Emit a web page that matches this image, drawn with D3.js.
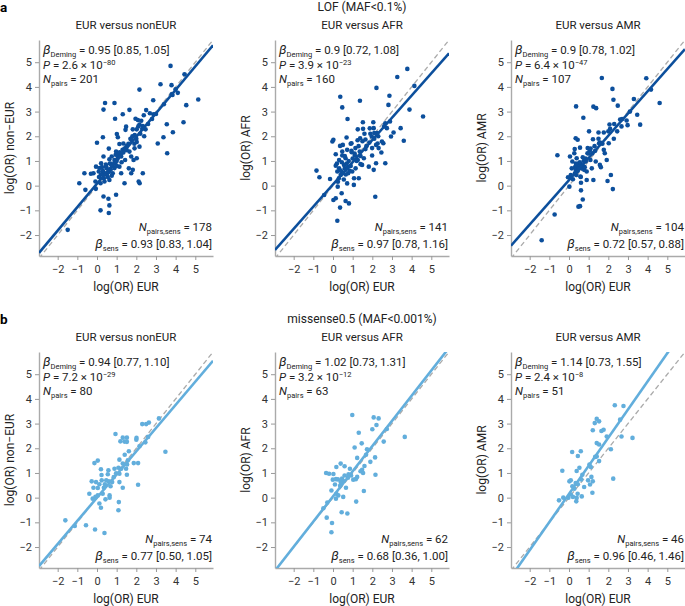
<!DOCTYPE html>
<html><head><meta charset="utf-8">
<script src="https://cdn.jsdelivr.net/npm/d3@7"></script>
<style>
body{margin:0;background:#fff;}
text{font-family:Roboto,"Noto Sans",sans-serif;fill:#222;}
</style></head>
<body><svg id="c" width="685" height="606"></svg>
<script>
// ---------- data ----------
const ticks = [-2,-1,0,1,2,3,4,5];
const rowTitles = ["LOF (MAF<0.1%)", "missense0.5 (MAF<0.001%)"];
const panelLetters = ["a","b"];
const colTitles = ["EUR versus nonEUR","EUR versus AFR","EUR versus AMR"];
const yLabels = ["log(OR) non\u2212EUR","log(OR) AFR","log(OR) AMR"];
const slopes = [[0.95,0.9,0.9],[0.94,1.02,1.14]];
const intercepts = [[0.08,0.05,0.22],[0.0,0.05,0.15]];
const demingText = [["0.95 [0.85, 1.05]","0.9 [0.72, 1.08]","0.9 [0.78, 1.02]"],["0.94 [0.77, 1.10]","1.02 [0.73, 1.31]","1.14 [0.73, 1.55]"]];
const pMant = [["2.6","3.9","6.4"],["7.2","3.2","2.4"]];
const pExp = [["\u221280","\u221223","\u221247"],["\u221229","\u221212","\u22128"]];
const nPairs = [[201,160,107],[80,63,51]];
const nPairsSens = [[178,141,104],[74,62,46]];
const sensText = [["0.93 [0.83, 1.04]","0.97 [0.78, 1.16]","0.72 [0.57, 0.88]"],["0.77 [0.50, 1.05]","0.68 [0.36, 1.00]","0.96 [0.46, 1.46]"]];

const lofNonEUR = [[3.74,4.85],[4.45,4.51],[2.16,3.89],[3.23,4.11],[3.79,4.07],[4.11,3.76],[3.84,3.67],[5.15,3.49],[4.54,3.26],[4.40,2.57],[3.86,2.16],[3.55,2.49],[3.38,1.96],[3.09,1.71],[3.57,1.31],[2.86,3.46],[2.87,2.89],[2.5,3.06],[2.69,2.93],[2.38,2.85],[1.65,3.07],[1.31,2.89],[0.89,3.35],[0.41,3.35],[0.33,3.08],[0.92,2.71],[1.48,2.39],[1.82,2.28],[2.02,2.28],[2.16,2.48],[1.96,2.71],[2.08,2.66],[2.25,2.63],[2.33,2.41],[2.47,2.28],[1.92,2.05],[1.75,1.85],[2.02,1.77],[1.91,1.51],[1.65,1.38],[2.16,1.58],[1.74,1.18],[1.86,1.04],[1.01,2.09],[1.06,1.96],[0.30,1.96],[0.0,1.74],[0.6,1.50],[1.14,1.69],[1.34,1.71],[1.51,1.44],[0.89,1.04],[1.06,1.24],[1.23,1.18],[1.43,1.04],[1.14,0.77],[0.92,0.91],[0.71,0.88],[0.63,1.07],[0.33,1.18],[0.21,0.91],[-0.05,0.77],[-0.18,0.50],[0.09,0.57],[0.30,0.50],[0.46,0.77],[0.63,0.61],[0.80,0.50],[0.50,0.44],[0.38,0.17],[0.63,0.23],[-0.64,0.50],[-0.90,0.10],[-0.59,-0.17],[-0.06,-0.13],[0.18,0.10],[0.33,-0.44],[0.58,-0.53],[0.63,-0.80],[0.60,-1.11],[0.18,-1.00],[0.97,-0.37],[1.40,0.10],[1.23,0.50],[1.74,0.50],[1.82,0.64],[1.62,0.70],[2.12,0.17],[2.17,0.10],[2.33,0.50],[2.02,1.11],[-1.49,-1.79],[1.45,2.26],[1.14,1.31],[0.97,1.38],[1.34,1.34],[0.75,1.18],[0.89,0.71],[0.12,0.71],[-0.08,0.17],[-0.31,0.48],[0.3,0.6],[0.4,0.5],[0.5,0.7],[0.6,0.55],[0.2,0.45],[0.1,0.35],[0.45,0.85],[0.7,0.65],[0.8,0.8],[0.9,0.95],[1.0,1.0],[1.05,1.1],[1.1,1.25],[1.15,1.35],[1.2,1.2],[1.25,0.95],[1.3,1.45],[0.95,1.25],[1.0,0.8],[0.35,0.3],[0.55,0.35],[0.75,0.4],[0.25,0.75],[0.65,0.9],[1.6,1.7],[1.7,1.9],[1.8,2.0],[1.9,1.7],[2.2,2.1],[2.3,2.3],[2.6,2.5],[2.8,2.7],[3.0,2.9],[3.4,3.3],[3.8,3.7],[4.0,3.9],[1.5,1.6],[1.4,1.5],[2.0,1.9],[2.1,2.4],[2.4,2.0]];

const lofAFR = [[3.78,4.73],[3.27,4.40],[4.14,4.04],[2.21,3.96],[0.37,3.60],[0.47,3.17],[1.37,3.44],[2.87,3.64],[2.82,3.27],[3.89,3.08],[4.58,2.80],[0.74,2.70],[1.52,2.57],[2.05,2.57],[1.53,2.30],[1.87,2.32],[2.07,2.33],[2.66,2.53],[3.44,2.33],[3.08,2.15],[2.95,1.99],[3.60,1.82],[1.26,2.28],[0.69,1.95],[0.02,1.86],[-0.03,1.79],[0.36,1.61],[0.5,1.65],[0.94,1.72],[1.25,1.84],[1.38,1.92],[1.65,1.87],[1.85,1.75],[1.97,1.99],[2.27,1.71],[2.56,1.72],[2.46,1.34],[1.99,1.52],[1.65,1.48],[0.14,1.27],[0.47,1.22],[0.72,1.45],[0.94,1.41],[1.11,1.22],[1.36,1.38],[1.26,1.04],[1.48,0.84],[1.82,0.77],[2.19,0.91],[2.66,0.91],[2.07,0.64],[1.99,1.22],[-0.84,0.61],[-0.69,0.34],[-0.45,-0.38],[-0.15,0.27],[0.14,0.81],[0.31,0.70],[0.22,0.57],[0.39,0.43],[0.25,0.16],[0.24,-0.04],[0.44,-0.31],[0.14,-0.51],[0.02,-0.58],[0.36,-0.89],[0.64,-0.62],[0.81,-0.72],[0.72,0.09],[1.06,0.03],[1.07,0.30],[0.77,0.50],[0.56,0.84],[0.64,0.64],[0.98,0.57],[1.31,0.30],[0.22,-1.42],[2.15,-0.45],[1.40,0.87],[1.57,1.11],[2.19,1.65],[2.32,1.52],[2.49,1.79],[2.74,2.33],[2.24,2.13],[2.10,2.13],[1.14,1.52],[0.64,1.11],[0.31,1.04],[0.47,1.38],[0.5,0.5],[0.6,0.7],[0.7,0.9],[0.8,1.0],[0.9,0.8],[1.0,1.1],[1.1,1.3],[1.2,1.0],[0.4,0.6],[0.3,0.3],[0.55,0.25],[0.65,0.45],[0.85,0.6],[0.45,0.95],[1.3,1.6],[1.5,1.8],[1.7,1.6],[1.9,2.1],[2.1,1.9],[2.3,2.0],[0.95,1.35],[1.15,0.7],[0.6,1.2],[1.4,1.2],[0.75,0.75],[2.6,2.4],[2.9,2.6],[1.6,2.1],[0.2,0.9],[0.9,1.7]];

const lofAMR = [[1.67,4.36],[3.93,4.35],[2.21,3.92],[2.26,3.48],[4.17,3.89],[4.61,3.35],[3.30,3.51],[2.48,3.24],[1.24,3.20],[1.38,3.14],[0.36,3.21],[0.73,2.75],[2.60,2.68],[2.93,2.64],[2.67,2.40],[2.98,2.45],[3.47,2.87],[3.62,2.47],[2.06,2.48],[2.09,2.30],[2.45,2.20],[2.28,1.90],[1.02,2.20],[1.50,2.15],[1.77,2.15],[1.58,1.75],[1.22,1.88],[0.34,1.92],[0.44,1.86],[0.29,1.48],[0.56,1.54],[0.95,1.52],[1.06,1.42],[1.33,1.41],[1.77,1.45],[1.82,1.31],[1.92,1.04],[2.02,1.72],[-0.59,1.23],[0.05,1.18],[0.17,0.98],[0.39,1.11],[0.70,1.15],[0.85,0.98],[1.09,1.04],[1.19,1.31],[1.57,0.84],[1.62,0.75],[1.16,0.70],[0.90,0.57],[0.54,0.73],[0.31,0.75],[0.14,0.70],[0.09,0.43],[-0.05,0.34],[0.20,0.26],[0.02,-0.04],[0.58,0.37],[0.61,0.12],[0.61,-0.19],[0.70,-0.56],[0.56,-0.83],[0.48,-0.85],[0.90,0.23],[1.24,0.23],[1.96,0.19],[2.13,0.43],[2.23,-0.14],[-0.73,-1.17],[-1.39,-2.21],[0.51,0.91],[0.65,0.77],[0.77,0.64],[0.37,0.43],[0.94,1.31],[1.36,0.98],[0.27,1.31],[1.53,1.72],[0.34,0.64],[0.4,0.8],[0.5,0.7],[0.6,0.85],[0.45,0.6],[0.55,0.95],[0.65,0.7],[0.7,0.8],[0.8,0.75],[0.35,0.9],[0.3,0.5],[1.0,1.3],[1.1,1.5],[1.3,1.6],[1.5,1.9],[2.0,2.2],[2.3,2.5],[2.7,2.7],[3.1,3.0],[1.7,1.7],[0.6,0.35],[0.75,1.0],[0.85,1.1]];

const misNonEUR = [[2.30,2.98],[2.50,2.98],[2.64,3.04],[3.15,3.21],[0.94,2.58],[1.31,2.43],[1.19,2.28],[1.40,2.27],[1.52,2.43],[1.52,2.26],[2.01,2.42],[2.0,2.35],[2.60,2.46],[2.46,2.24],[3.48,1.86],[2.16,2.08],[1.62,1.88],[1.41,1.74],[1.14,1.54],[1.57,1.51],[1.31,1.38],[1.53,1.34],[1.87,1.40],[2.09,1.40],[1.48,1.17],[1.09,1.21],[0.97,0.99],[0.85,0.83],[1.14,0.97],[1.52,0.93],[1.14,0.63],[1.31,0.40],[2.09,0.52],[0.04,1.50],[-0.13,1.40],[0.20,1.15],[0.58,1.11],[0.55,0.95],[0.23,0.92],[-0.27,0.66],[-0.05,0.63],[0.12,0.54],[0.24,0.70],[0.47,0.70],[0.60,0.66],[0.40,0.54],[0.69,0.46],[0.35,0.40],[0.04,0.39],[-0.18,0.40],[-0.39,0.16],[-0.22,-0.04],[0.04,0.09],[0.29,0.16],[0.43,-0.07],[0.64,0.09],[0.12,-0.24],[0.20,-0.41],[0.64,0.0],[1.11,-0.18],[1.09,-0.51],[-1.61,-0.92],[-1.13,-1.15],[-0.56,-1.12],[-0.10,-1.29],[0.38,-1.43],[1.23,1.17],[0.89,1.17],[0.77,0.63],[-0.08,0.03]];

const misAFR = [[0.98,3.35],[2.07,3.25],[2.32,3.21],[2.21,2.94],[2.74,2.78],[2.00,2.77],[1.31,2.63],[3.65,2.46],[2.58,2.27],[1.46,2.20],[1.10,2.03],[1.73,1.96],[1.23,1.61],[2.14,1.63],[1.90,1.45],[1.68,1.74],[1.60,1.28],[1.48,1.13],[1.40,1.07],[1.53,1.00],[2.16,0.93],[1.57,0.27],[1.18,-0.16],[0.39,1.38],[0.59,1.27],[0.17,1.24],[-0.35,1.00],[-0.20,0.97],[0.02,0.96],[-0.01,0.73],[0.15,0.75],[0.25,0.74],[0.46,0.77],[0.52,0.67],[0.59,0.90],[0.39,0.63],[0.79,0.95],[0.92,0.90],[1.03,0.73],[1.16,0.75],[1.23,0.84],[0.66,0.40],[0.36,0.48],[0.10,0.53],[-0.08,0.29],[0.17,0.16],[0.27,0.09],[0.52,0.03],[0.15,-0.04],[-0.29,-0.20],[-0.49,-0.43],[0.44,-0.59],[0.73,-0.64],[-0.32,-0.81],[-0.05,-1.03],[-0.08,-1.40],[0.76,0.81],[0.86,1.17]];

const misAMR = [[2.33,3.74],[2.77,3.71],[2.60,3.16],[1.41,3.19],[1.53,3.09],[1.31,3.02],[1.21,2.73],[1.65,2.70],[1.76,2.75],[1.92,2.48],[2.67,2.48],[3.23,2.42],[1.41,2.21],[1.53,2.15],[2.13,1.96],[0.16,1.85],[0.60,1.88],[0.45,1.69],[1.41,1.67],[1.33,1.65],[1.53,1.48],[-0.34,1.09],[0.39,1.08],[0.53,1.21],[1.04,1.34],[1.11,1.24],[0.68,0.93],[0.62,0.74],[1.14,0.84],[2.25,0.77],[0.02,0.66],[0.09,0.70],[0.34,0.59],[0.45,0.54],[0.17,0.46],[0.27,0.36],[0.77,0.43],[1.07,0.53],[1.21,0.66],[1.19,0.20],[-0.51,-0.11],[-0.29,0.0],[-0.03,0.0],[0.09,0.13],[0.20,0.03],[0.39,-0.01],[0.37,-0.15],[0.44,0.16],[0.65,0.05],[0.97,0.70]];

const panelData = [[lofNonEUR, lofAFR, lofAMR],[misNonEUR, misAFR, misAMR]];
const rowColors = ["#0c4f9c", "#62aedc"];

// ---------- layout ----------
const svg = d3.select("#c");
const colLeft = [39, 275, 511], rowTop = [40, 352];
const pw = 174, ph = 216;
const xDom = [-2.95, 5.9], yDom = [-2.85, 5.9];

svg.append("defs").selectAll("clipPath").data([0,1,2,3,4,5]).join("clipPath")
  .attr("id", d => "clip"+d).append("rect").attr("width", pw).attr("height", ph);

const rowTitleY = [11, 323], letterY = [12, 324];
rowTitles.forEach((t, r) => {
  svg.append("text").attr("x", 362).attr("y", rowTitleY[r]).attr("text-anchor","middle")
    .attr("font-size", 12).text(t);
  svg.append("text").attr("x", 0).attr("y", letterY[r]).attr("font-size", 13.5)
    .attr("font-weight", "bold").style("fill","#000").text(panelLetters[r]);
});

for (let r = 0; r < 2; r++) {
  for (let c = 0; c < 3; c++) {
    const g = svg.append("g").attr("transform", `translate(${colLeft[c]},${rowTop[r]})`);
    const x = d3.scaleLinear().domain(xDom).range([0, pw]);
    const y = d3.scaleLinear().domain(yDom).range([ph, 0]);
    const col = rowColors[r];

    const xa = g.append("g").attr("transform", `translate(0,${ph})`)
      .call(d3.axisBottom(x).tickValues(ticks).tickSize(4).tickSizeOuter(0));
    const ya = g.append("g").call(d3.axisLeft(y).tickValues(ticks).tickSize(4).tickSizeOuter(0));
    [xa, ya].forEach(a => {
      a.select(".domain").attr("stroke", "#aaa").attr("stroke-width", 1.4);
      a.selectAll(".tick line").attr("stroke", "#999");
      a.selectAll(".tick text").attr("font-size", 11).attr("font-family", "Roboto,'Noto Sans',sans-serif").style("fill","#333");
    });
    xa.selectAll(".tick text").attr("dy", "0.95em");

    const pg = g.append("g").attr("clip-path", `url(#clip${r*3+c})`);
    pg.append("line").attr("x1", x(xDom[0])).attr("y1", y(xDom[0]))
      .attr("x2", x(xDom[1])).attr("y2", y(xDom[1]))
      .attr("stroke", "#aaa").attr("stroke-width", 1.3).attr("stroke-dasharray", "5,3");
    pg.selectAll("circle").data(panelData[r][c]).join("circle")
      .attr("cx", d => x(d[0])).attr("cy", d => y(d[1])).attr("r", 2.3).attr("fill", col);
    const s = slopes[r][c], b = intercepts[r][c];
    pg.append("line").attr("x1", x(xDom[0])).attr("y1", y(s*xDom[0]+b))
      .attr("x2", x(xDom[1])).attr("y2", y(s*xDom[1]+b))
      .attr("stroke", col).attr("stroke-width", 2.6);

    g.append("text").attr("x", pw/2).attr("y", -11).attr("text-anchor","middle")
      .attr("font-size", 11.5).text(colTitles[c]);
    g.append("text").attr("x", pw/2).attr("y", ph + 35).attr("text-anchor","middle")
      .attr("font-size", 12).text("log(OR) EUR");
    g.append("text").attr("transform", `translate(-25,${ph/2}) rotate(-90)`).attr("text-anchor","middle")
      .attr("font-size", 12).text(yLabels[c]);

    const fs = 11.5, sub = 7.5;
    const t1 = g.append("text").attr("x", 4).attr("y", 14).attr("font-size", fs);
    t1.append("tspan").attr("font-style","italic").attr("font-size", 13).text("\u03b2");
    t1.append("tspan").attr("font-size", sub).attr("dy", 2.5).text("Deming");
    t1.append("tspan").attr("dy", -2.5).text(" = " + demingText[r][c]);
    const t2 = g.append("text").attr("x", 4).attr("y", 28.5).attr("font-size", fs);
    t2.append("tspan").attr("font-style","italic").text("P");
    t2.append("tspan").text(" = " + pMant[r][c] + " \u00d7 10");
    t2.append("tspan").attr("font-size", sub).attr("dy", -4).text(pExp[r][c]);
    const t3 = g.append("text").attr("x", 4).attr("y", 43).attr("font-size", fs);
    t3.append("tspan").attr("font-style","italic").text("N");
    t3.append("tspan").attr("font-size", sub).attr("dy", 2.5).text("pairs");
    t3.append("tspan").attr("dy", -2.5).text(" = " + nPairs[r][c]);

    const t4 = g.append("text").attr("x", pw - 1).attr("y", ph - 25).attr("text-anchor","end").attr("font-size", fs);
    t4.append("tspan").attr("font-style","italic").text("N");
    t4.append("tspan").attr("font-size", sub).attr("dy", 2.5).text("pairs,sens");
    t4.append("tspan").attr("dy", -2.5).text(" = " + nPairsSens[r][c]);
    const t5 = g.append("text").attr("x", pw - 1).attr("y", ph - 8).attr("text-anchor","end").attr("font-size", fs);
    t5.append("tspan").attr("font-style","italic").attr("font-size", 13).text("\u03b2");
    t5.append("tspan").attr("font-size", sub).attr("dy", 2.5).text("sens");
    t5.append("tspan").attr("dy", -2.5).text(" = " + sensText[r][c]);
  }
}
</script></body></html>
